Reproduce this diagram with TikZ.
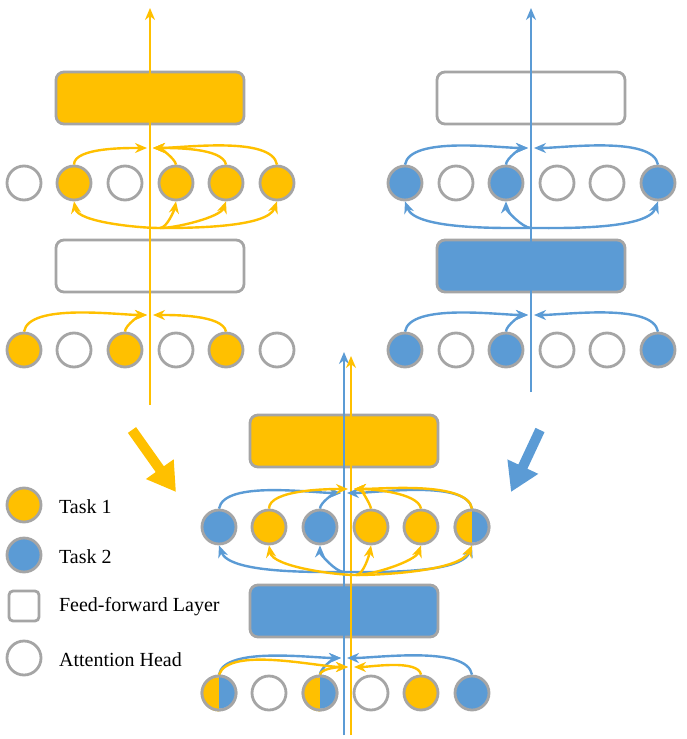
\documentclass[tikz,border=0pt]{standalone}
\usepackage{fontspec}
\setmainfont{Liberation Serif}
\usetikzlibrary{arrows.meta}
\definecolor{ye}{HTML}{FFC000}
\definecolor{bl}{HTML}{5B9BD5}
\definecolor{gr}{HTML}{A5A5A5}
\begin{document}
\begin{tikzpicture}[x=0.5pt,y=-0.5pt,
 hd/.style={circle,draw=gr,line width=1.4pt,minimum size=17pt,inner sep=0pt},
 ff/.style={rounded corners=4pt,draw=gr,line width=1.4pt,minimum width=94pt,minimum height=26pt},
 ya/.style={ye,line width=1.2pt,looseness=0.6,-{Stealth[length=6pt,width=5pt]}},
 ba/.style={bl,line width=1.2pt,looseness=0.6,-{Stealth[length=6pt,width=5pt]}},
 lg/.style={anchor=west}]
\useasboundingbox (0,0) rectangle (686,739);
% ---------- left panel
\node[ff,fill=ye] (L1) at (150,98) {};
\node[ff] (L2) at (150,266) {};
\foreach \i/\x/\c in {1/24/white,2/74/ye,3/125/white,4/176/ye,5/226/ye,6/277/ye}{
 \node[hd,fill=\c] (lt\i) at (\x,183) {};}
\foreach \i/\x/\c in {1/24/ye,2/74/white,3/125/ye,4/176/white,5/226/ye,6/277/white}{
 \node[hd,fill=\c] (lb\i) at (\x,350) {};}
\coordinate (ls) at (150,405); \coordinate (le) at (150,8);
\coordinate (lta) at (147,148); \coordinate (ltb) at (153,148);
\coordinate (lba) at (147,315); \coordinate (lbb) at (153,315);
\coordinate (lf) at (160,228);
\draw[ya] (ls) -- (le);
\draw[ya] (lt2.north) to[out=90,in=180] (lta);
\draw[ya] (lt4.north) to[out=100,in=0] (ltb);
\draw[ya] (lt5.north) to[out=100,in=0] (ltb);
\draw[ya] (lt6.north) to[out=100,in=0] (ltb);
\draw[ya] (lf) to[out=180,in=-80] (lt2.south);
\draw[ya] (lf) to[out=0,in=-100] (lt4.south);
\draw[ya] (lf) to[out=0,in=-110] (lt5.south);
\draw[ya] (lf) to[out=0,in=-110] (lt6.south);
\draw[ya] (lb1.north) to[out=80,in=180] (lba);
\draw[ya] (lb3.north) to[out=90,in=180] (lba);
\draw[ya] (lb5.north) to[out=100,in=0] (lbb);
% ---------- right panel
\node[ff] (R1) at (531,98) {};
\node[ff,fill=bl] (R2) at (531,266) {};
\foreach \i/\x/\c in {1/405/bl,2/456/white,3/506/bl,4/557/white,5/607/white,6/658/bl}{
 \node[hd,fill=\c] (rt\i) at (\x,183) {};}
\foreach \i/\x/\c in {1/405/bl,2/456/white,3/506/bl,4/557/white,5/607/white,6/658/bl}{
 \node[hd,fill=\c] (rb\i) at (\x,350) {};}
\coordinate (rs) at (531,392); \coordinate (re) at (531,8);
\coordinate (rta) at (528,148); \coordinate (rtb) at (534,148);
\coordinate (rba) at (528,315); \coordinate (rbb) at (534,315);
\coordinate (rf) at (531,228);
\draw[ba] (rs) -- (re);
\draw[ba] (rt1.north) to[out=80,in=180] (rta);
\draw[ba] (rt3.north) to[out=90,in=180] (rta);
\draw[ba] (rt6.north) to[out=100,in=0] (rtb);
\draw[ba] (rf) to[out=180,in=-70] (rt1.south);
\draw[ba] (rf) to[out=180,in=-90] (rt3.south);
\draw[ba] (rf) to[out=0,in=-110] (rt6.south);
\draw[ba] (rb1.north) to[out=80,in=180] (rba);
\draw[ba] (rb3.north) to[out=90,in=180] (rba);
\draw[ba] (rb6.north) to[out=100,in=0] (rbb);
% ---------- big arrows
\coordinate (ya1) at (132,430); \coordinate (ya2) at (176,492);
\coordinate (ba1) at (540,430); \coordinate (ba2) at (511,492);
\draw[ye,line width=5pt,-{Triangle[length=14pt,width=16pt]}] (ya1) -- (ya2);
\draw[bl,line width=5pt,-{Triangle[length=14pt,width=16pt]}] (ba1) -- (ba2);
% ---------- bottom panel
\node[ff,fill=ye] (B1) at (344,441) {};
\node[ff,fill=bl] (B2) at (344,611) {};
\foreach \i/\x/\c in {1/219/bl,2/269/ye,3/320/bl,4/371/ye,5/421/ye,6/472/white}{
 \node[hd,fill=\c] (bt\i) at (\x,527) {};}
\foreach \i/\x/\c in {1/219/white,2/269/white,3/320/white,4/371/white,5/421/ye,6/472/bl}{
 \node[hd,fill=\c] (bb\i) at (\x,693) {};}
\foreach \n in {bt6,bb1,bb3}{
 \fill[ye] (\n.south) arc[start angle=-90,end angle=-270,radius=8.5pt] -- cycle;
 \fill[bl] (\n.north) arc[start angle=90,end angle=-90,radius=8.5pt] -- cycle;
 \draw[gr,line width=1.4pt] (\n) circle[radius=8.5pt];}
\coordinate (bs1) at (344,735); \coordinate (be1) at (344,352);
\coordinate (bs2) at (351,735); \coordinate (be2) at (351,356);
\draw[ba] (bs1) -- (be1);
\draw[ya] (bs2) -- (be2);
% top row connections
\coordinate (bta) at (341,493); \coordinate (btb) at (347,493);
\coordinate (btc) at (348,489); \coordinate (btd) at (354,489);
\draw[ba] (bt1.north) to[out=80,in=180] (bta);
\draw[ba] (bt3.north) to[out=90,in=180] (bta);
\draw[ba] (bt6.north) to[out=100,in=0] (btb);
\draw[ya] (bt2.north) to[out=90,in=180] (btc);
\draw[ya] (bt4.north) to[out=100,in=0] (btd);
\draw[ya] (bt5.north) to[out=100,in=0] (btd);
\draw[ya] (bt6.north) to[out=100,in=0] (btd);
\coordinate (bfb) at (344,572); \coordinate (bfy) at (356,575);
\draw[ba] (bfb) to[out=180,in=-70] (bt1.south);
\draw[ba] (bfb) to[out=180,in=-90] (bt3.south);
\draw[ba] (bfb) to[out=0,in=-110] (bt6.south);
\draw[ya] (bfy) to[out=180,in=-80] (bt2.south);
\draw[ya] (bfy) to[out=0,in=-100] (bt4.south);
\draw[ya] (bfy) to[out=0,in=-110] (bt5.south);
\draw[ya] (bfy) to[out=0,in=-115] (bt6.south);
% bottom row connections
\coordinate (bba) at (341,658); \coordinate (bbb) at (347,658);
\coordinate (bbc) at (348,667); \coordinate (bbd) at (354,667);
\draw[ba] (bb1.north) to[out=80,in=180] (bba);
\draw[ba] (bb3.north) to[out=90,in=180] (bba);
\draw[ba] (bb6.north) to[out=100,in=0] (bbb);
\draw[ya] (bb1.north) to[out=70,in=180] (bbc);
\draw[ya] (bb3.north) to[out=80,in=180] (bbc);
\draw[ya] (bb5.north) to[out=100,in=0] (bbd);
% ---------- legend
\node[hd,fill=ye] (g1) at (24,505) {};
\node[hd,fill=bl] (g2) at (24,555) {};
\node[draw=gr,line width=1.4pt,rounded corners=2pt,minimum size=15pt] (g3) at (24,606) {};
\node[hd] (g4) at (24,658) {};
\node[lg] at (52,507) {Task 1};
\node[lg] at (52,557) {Task 2};
\node[lg] at (52,607) {Feed-forward Layer};
\node[lg] at (52,660) {Attention Head};
\end{tikzpicture}
\end{document}
